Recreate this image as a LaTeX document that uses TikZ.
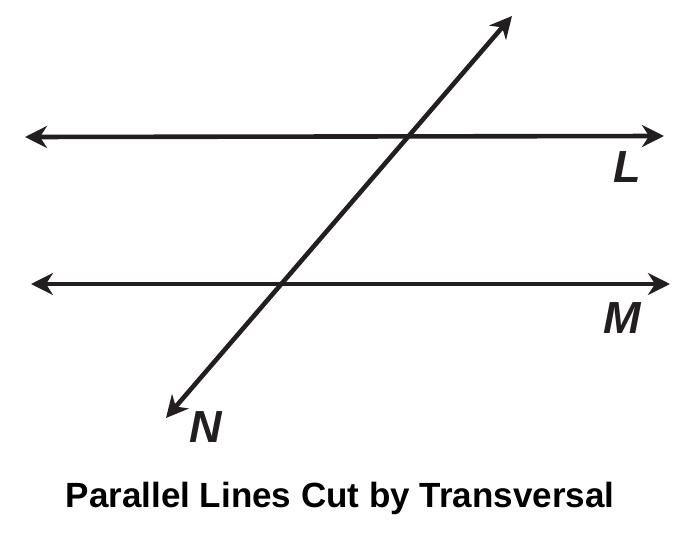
\documentclass[tikz,border=0pt]{standalone}
\usepackage{fontspec}
\setmainfont{Liberation Sans}
\usetikzlibrary{arrows.meta}
\definecolor{ink}{HTML}{231F20}
\begin{document}
\begin{tikzpicture}[x=1pt,y=-1pt,
  lineto/.style={draw=ink,line width=4.6pt,{Stealth[length=22pt,width=22pt,inset=7pt]}-{Stealth[length=22pt,width=22pt,inset=7pt]}},
  lbl/.style={text=ink,font=\fontsize{45}{45}\selectfont\bfseries\itshape,inner sep=0pt}]
\useasboundingbox (0,0) rectangle (680,538);
\coordinate (L1) at (25,137);
\coordinate (L2) at (664,136);
\coordinate (M1) at (31,284);
\coordinate (M2) at (670,284);
\coordinate (T1) at (166,418);
\coordinate (T2) at (512,16);
\draw[lineto] (L1) -- (L2);
\draw[lineto] (M1) -- (M2);
\draw[lineto] (T1) -- (T2);
\node[lbl] (lL) at (627,167) {L};
\node[lbl] (lM) at (622,318) {M};
\node[lbl] (lN) at (206,427) {N};
\node[text=black,font=\fontsize{35}{35}\selectfont\bfseries,inner sep=0pt,anchor=base] (title) at (340,507) {Parallel Lines Cut by Transversal};
\end{tikzpicture}
\end{document}
